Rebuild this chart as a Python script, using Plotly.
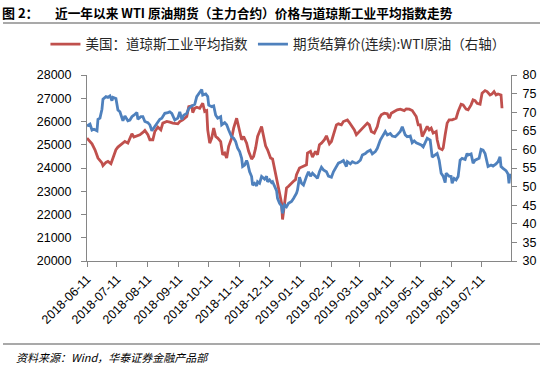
import pandas as pd
import plotly.graph_objects as go

BASE_DATE = "2018-06-11"

dow_name = "美国：道琼斯工业平均指数"
wti_name = "期货结算价(连续):WTI原油（右轴）"

# days since 2018-06-11
dow_day = [0, 5, 8, 11, 15, 16, 19, 21, 24, 26, 29, 31, 35, 38, 41, 43, 45, 47, 51, 53,
           56, 58, 61, 63, 66, 68, 71, 74, 76, 80, 83, 86, 91, 93, 96, 100, 102, 105, 106, 108,
           110, 113, 116, 118, 120, 121, 123, 125, 127, 129, 131, 134, 136, 138, 140, 142, 145, 147, 150, 152,
           155, 157, 160, 162, 165, 167, 169, 171, 175, 176, 179, 181, 184, 186, 188, 190, 192, 195, 196, 198,
           200, 202, 205, 207, 209, 210, 213,
           216, 220, 221, 224, 226, 229, 231, 233, 235, 238, 240, 243, 245, 248, 250, 252, 255, 257, 261, 263,
           265, 268, 270, 273, 275, 278, 281, 283, 285, 288, 291, 293, 295, 298, 301, 303, 305, 308, 311, 314, 318,
           320, 323, 326, 328, 330, 332, 334, 336, 339, 341, 343, 345, 347, 350, 351, 353, 356, 357, 359, 361,
           363, 366, 370, 372, 375, 377, 380, 382, 385, 387, 389, 391, 394, 396, 399, 401, 404, 406, 408, 410,
           412, 415, 416]
dow_val = [25285, 25040, 24785, 24430, 24215, 24100, 24240, 24285, 24185, 24470, 24785, 24900, 25040, 25140, 25070, 25240, 25470, 25330, 25385, 25430,
           25530, 25615, 25430, 25215, 25215, 25570, 25760, 25640, 25930, 26000, 25970, 25930, 25900, 26000, 26070, 26215, 26640, 26670, 26385, 26570,
           26615, 26570, 26785, 26430, 26470, 25640, 25070, 25285, 25715, 25355, 25285, 25140, 24570, 24640, 24430, 24930, 25285, 25715, 26140, 25785,
           25215, 25355, 25070, 24715, 24385, 24500, 24855, 25355, 25785, 25570, 24955, 24785, 24430, 24385, 23930, 23640, 23140, 22500, 21785, 22500,
           23140, 23215, 23360, 23430, 23500, 23715, 24000,
           24070, 24140, 24640, 24715, 24470, 24715, 24570, 25000, 25070, 25215, 25385, 25040, 25140, 25570, 25855, 25900, 25855, 26000, 26070, 25955,
           25815, 25640, 25430, 25570, 25640, 25785, 25930, 25855, 25570, 25500, 25785, 26140, 26285, 26355, 26330, 26140, 26355, 26430, 26500, 26530, 26470,
           26540, 26530, 26470, 26355, 26215, 25855, 25855, 25355, 25640, 25785, 25640, 25715, 25500, 25570, 25215, 24855, 24785, 24855, 25430, 25930,
           26070, 26070, 26140, 26430, 26745, 26715, 26530, 26500, 26715, 26930, 26900, 26785, 26745, 27215, 27330, 27285, 27140, 27185, 27285, 27140,
           27185, 27140, 26570]

wti_day = [0, 3, 5, 7, 10, 11, 13, 15, 16, 19, 21, 23, 25, 26, 29, 31, 33, 35, 36, 38,
           41, 43, 45, 47, 50, 51, 54, 56, 58, 61, 63, 65, 66, 68, 71, 73, 75, 78, 81, 83,
           85, 88, 91, 93, 95, 97, 100, 102, 105, 108,
           110, 113, 115, 116, 119, 121, 122, 125, 127, 129, 131, 134, 135, 138, 140, 142, 145, 147, 149, 151,
           153, 155, 156, 158, 160, 161, 163, 165, 166, 168, 170, 171, 173, 175, 176, 178, 180, 181, 183, 185,
           186, 188, 190, 191, 193, 195, 196, 198, 200, 202, 205, 207, 210, 211, 213,
           215, 217, 220, 222, 224, 226, 229, 231, 233, 235, 237, 240, 242, 245, 247, 250, 252, 255, 257, 260,
           261, 264, 266, 269, 271, 274, 276, 279, 281, 284, 286, 289, 291, 294, 296, 299, 301, 304, 306, 309,
           311, 314, 316, 318,
           319, 321, 324, 326, 328, 330, 332, 335, 337, 339, 341, 344, 345, 346, 349, 351, 353, 355, 357, 359,
           360, 363, 365, 366, 368, 370, 372, 374, 376, 379, 381, 382, 385, 387, 389, 391, 393, 395, 397, 399,
           400, 402, 405, 407, 410, 412, 414, 415, 417, 420, 422, 423, 424]
wti_val = [66.3, 66.8, 65.2, 65.4, 65.0, 68.1, 68.4, 70.8, 73.5, 74.2, 74.0, 74.4, 73.1, 74.0, 73.7, 70.6, 70.1, 68.8, 67.7, 69.0,
           67.7, 67.9, 68.8, 69.2, 69.9, 68.1, 68.8, 68.8, 67.5, 67.2, 66.6, 65.0, 65.4, 66.1, 67.5, 68.1, 68.4, 69.7, 69.9, 70.1,
           69.7, 67.9, 68.4, 70.1, 68.1, 69.2, 69.7, 71.0, 71.7, 72.1,
           74.2, 75.3, 76.1, 74.6, 74.9, 74.2, 71.9, 71.5, 71.7, 69.2, 68.4, 68.8, 66.6, 67.2, 66.6, 65.2, 63.4, 63.0, 62.1, 60.3,
           59.4, 57.6, 55.4, 55.8, 57.0, 56.3, 54.0, 52.7, 50.4, 50.9, 50.2, 51.3, 50.9, 52.7, 52.5, 52.0, 52.8, 51.3, 51.8, 51.1,
           51.3, 50.0, 48.9, 46.8, 45.5, 44.8, 42.8, 45.1, 44.6, 45.5, 46.0, 46.8, 48.2, 49.1, 52.5,
           50.9, 50.4, 52.7, 54.0, 52.8, 53.6, 52.8, 52.2, 54.0, 55.2, 54.5, 54.0, 52.8, 52.5, 54.0, 55.5, 56.3, 56.7, 57.0, 55.4,
           56.7, 56.1, 56.7, 56.3, 56.4, 57.1, 58.5, 58.9, 59.4, 59.8, 58.8, 59.4, 60.3, 62.5, 63.4, 64.8, 63.9, 64.3, 63.6, 63.4,
           63.9, 64.8, 66.1, 64.3,
           63.9, 63.4, 63.6, 61.8, 62.3, 61.8, 61.6, 61.2, 60.7, 62.1, 63.0, 62.5, 60.7, 57.9, 58.5, 58.9, 57.1, 53.6, 52.8, 51.1,
           53.6, 52.8, 52.7, 50.9, 52.2, 51.8, 52.7, 57.1, 57.6, 57.3, 58.9, 58.5, 58.8, 56.3, 57.1, 57.3, 57.6, 60.0, 59.8, 58.9,
           57.6, 55.4, 55.8, 55.5, 56.1, 56.7, 58.0, 55.4, 54.9, 54.3, 53.4, 50.9, 53.5]

tick_dates = ["2018-06-11", "2018-07-11", "2018-08-11", "2018-09-11", "2018-10-11", "2018-11-11",
              "2018-12-11", "2019-01-11", "2019-02-11", "2019-03-11", "2019-04-11", "2019-05-11",
              "2019-06-11", "2019-07-11"]
x_range = ["2018-06-11", "2019-08-10"]

base = pd.Timestamp(BASE_DATE)
dow_x = [base + pd.Timedelta(days=d) for d in dow_day]
wti_x = [base + pd.Timedelta(days=d) for d in wti_day]

FONT = "Liberation Sans, Arial, Noto Sans CJK SC"
CJK = "Noto Sans CJK SC, Liberation Sans"
AXC = "#868686"

fig = go.Figure()
fig.add_trace(go.Scatter(x=dow_x, y=dow_val, name=dow_name, mode="lines",
                         line=dict(color="#C0504D", width=2.8)))
fig.add_trace(go.Scatter(x=wti_x, y=wti_val, name=wti_name, mode="lines", yaxis="y2",
                         line=dict(color="#4F81BD", width=2.8)))

fig.update_layout(
    width=545, height=367,
    margin=dict(l=87, r=34, t=75, b=106, autoexpand=False),
    paper_bgcolor="white", plot_bgcolor="white",
    font=dict(family=FONT, size=12, color="#000000"),
    showlegend=True,
    legend=dict(orientation="h", x=-0.098, xanchor="left", y=1.165, yanchor="middle",
                font=dict(family=CJK, size=13.5, color="#262626"),
                itemwidth=30, tracegroupgap=0, bgcolor="rgba(0,0,0,0)"),
    xaxis=dict(type="date", range=x_range, tickvals=tick_dates, tickformat="%Y-%m-%d",
               tickangle=-45, showgrid=False, zeroline=False, automargin=False,
               showline=True, linecolor=AXC, linewidth=1,
               ticks="outside", ticklen=5, tickcolor=AXC,
               tickfont=dict(family=FONT, size=12.5, color="#000000")),
    yaxis=dict(range=[20000, 28000], dtick=1000, tickformat="d", showgrid=False, zeroline=False,
               automargin=False, showline=True, linecolor=AXC, linewidth=1,
               ticks="outside", ticklen=5, tickcolor=AXC, ticklabelstandoff=7,
               tickfont=dict(family=FONT, size=12.5, color="#000000")),
    yaxis2=dict(range=[30, 80], dtick=5, overlaying="y", side="right",
                showgrid=False, zeroline=False, automargin=False,
                showline=True, linecolor=AXC, linewidth=1, ticklabelstandoff=3,
                ticks="outside", ticklen=5, tickcolor=AXC,
                tickfont=dict(family=FONT, size=12.5, color="#000000")),
)

fig.add_annotation(text="<b>图 2：</b>", xref="paper", yref="paper", x=-87/424, y=(261-12)/186,
                   xanchor="left", yanchor="middle", showarrow=False,
                   font=dict(family=CJK, size=13, color="#000000"))
fig.add_annotation(text="<b>近一年以来 WTI 原油期货（主力合约）价格与道琼斯工业平均指数走势</b>",
                   xref="paper", yref="paper", x=(53-87)/424, y=(261-12)/186,
                   xanchor="left", yanchor="middle", showarrow=False,
                   font=dict(family=CJK, size=12.7, color="#000000"))
fig.add_annotation(text="<i>资料来源：Wind，华泰证券金融产品部</i>", xref="paper", yref="paper",
                   x=(14-87)/424, y=(261-357)/186, xanchor="left", yanchor="middle", showarrow=False,
                   font=dict(family=CJK, size=11, color="#000000"))

fig.add_shape(type="line", xref="paper", yref="paper", x0=-84/424, x1=(540-87)/424,
              y0=(261-23)/186, y1=(261-23)/186, line=dict(color="#555555", width=1.2))
fig.add_shape(type="line", xref="paper", yref="paper", x0=-84/424, x1=(540-87)/424,
              y0=(261-344)/186, y1=(261-344)/186, line=dict(color="#555555", width=1.2))

fig.write_html("out.html", config={"displayModeBar": False},
               post_script="document.body.style.margin='0';document.body.style.padding='0';")
